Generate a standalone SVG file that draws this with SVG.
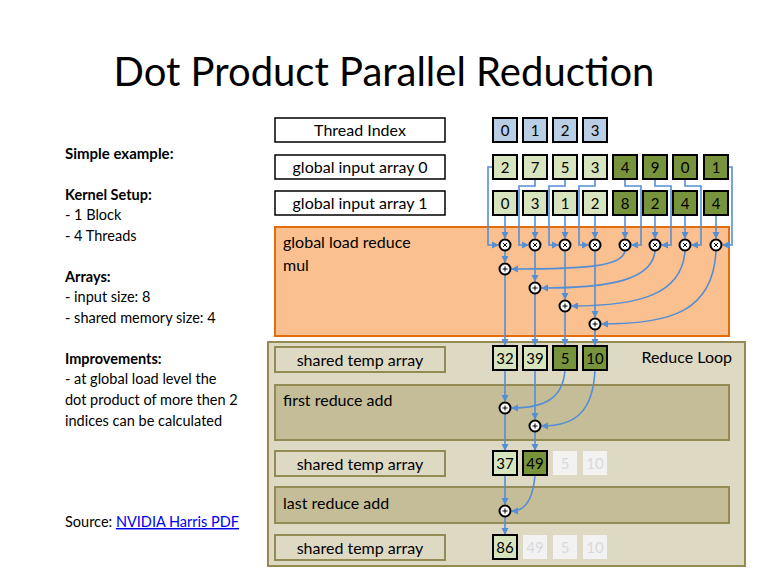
<svg xmlns="http://www.w3.org/2000/svg" width="768" height="576" viewBox="0 0 768 576">
<style>
text{font-family:Lato,"Open Sans","Liberation Sans",sans-serif;fill:#000}
.lbl{fill:#fff;stroke:#000;stroke-width:1.5}
.lbl2{fill:#ddd9c3;stroke:#948a54;stroke-width:2}
.lt{font-size:16px;text-anchor:middle}
.c{stroke:#000;stroke-width:2}
.b{fill:#b9cde5}.g{fill:#d7e4bd}.d{fill:#77933c}
.f{fill:#f2f2f2}
.ct{font-size:15px;text-anchor:middle}
.ft{font-size:15px;text-anchor:middle;fill:#d9d9d9}
.w{stroke:#558ed5;stroke-width:1.6;fill:none;marker-end:url(#a)}
.op{fill:#fff;stroke:#000;stroke-width:2}
.sym{stroke:#000;stroke-width:1}
.side{font-size:14.5px}
.bold{font-weight:bold}
</style>
<defs>
<marker id="a" markerWidth="8" markerHeight="8" refX="6" refY="4" orient="auto" markerUnits="userSpaceOnUse"><path d="M0,0.5 L7,4 L0,7.5z" fill="#558ed5"/></marker>
<g id="mul"><circle r="5.5" class="op"/><path d="M-2,-2 L2,2 M2,-2 L-2,2" class="sym"/></g>
<g id="add"><circle r="5.5" class="op"/><path d="M-2.5,0 H2.5 M0,-2.5 V2.5" class="sym"/></g>
</defs>
<rect width="768" height="576" fill="#fff"/>
<text x="384" y="86" font-size="40" text-anchor="middle">Dot Product Parallel Reduction</text>
<g id="side" class="side">
<text x="65" y="159" class="bold" font-size="15">Simple example:</text>
<text x="65" y="200" class="bold">Kernel Setup:</text>
<text x="65" y="220">- 1 Block</text>
<text x="65" y="241">- 4 Threads</text>
<text x="65" y="282" class="bold">Arrays:</text>
<text x="65" y="302">- input size: 8</text>
<text x="65" y="323">- shared memory size: 4</text>
<text x="65" y="364" class="bold">Improvements:</text>
<text x="65" y="384">- at global load level the</text>
<text x="65" y="405">dot product of more then 2</text>
<text x="65" y="426">indices can be calculated</text>
<text x="65" y="527">Source: <tspan fill="#0000ee" text-decoration="underline">NVIDIA  Harris PDF</tspan></text>
</g>
<g id="orange"><rect x="275" y="227" width="454" height="109" fill="#fac090" stroke="#e46c0a" stroke-width="2"/><text x="283" y="248" font-size="16">global load reduce</text><text x="283" y="271" font-size="16">mul</text></g>
<g id="loop"><rect x="268" y="342" width="477" height="224" fill="#ddd9c3" stroke="#948a54" stroke-width="2"/><text x="732" y="363" font-size="16" text-anchor="end" fill="#5a5a4a">Reduce Loop</text></g>
<g id="first"><rect x="275" y="385" width="454" height="55" fill="#c4bd97" stroke="#948a54" stroke-width="2"/><text x="283" y="406" font-size="16">first reduce add</text></g>
<g id="last"><rect x="275" y="487" width="454" height="36" fill="#c4bd97" stroke="#948a54" stroke-width="2"/><text x="283" y="509" font-size="16">last reduce add</text></g>
<g id="labels">
<rect x="275" y="118" width="170" height="24" class="lbl"/><text x="360" y="136" class="lt">Thread Index</text>
<rect x="275" y="155" width="170" height="24" class="lbl"/><text x="360" y="173" class="lt">global input array 0</text>
<rect x="275" y="191" width="170" height="24" class="lbl"/><text x="360" y="209" class="lt">global input array 1</text>
<rect x="275" y="347" width="170" height="25" class="lbl2"/><text x="360" y="366" class="lt">shared temp array</text>
<rect x="275" y="451" width="170" height="25" class="lbl2"/><text x="360" y="470" class="lt">shared temp array</text>
<rect x="275" y="535" width="170" height="25" class="lbl2"/><text x="360" y="554" class="lt">shared temp array</text>
</g>
<g id="connectors">
<path class="w" d="M493,167 H488 V245 H498"/>
<path class="w" d="M535,179 V186 H519 V245 H528"/>
<path class="w" d="M565,179 V186 H549 V245 H558"/>
<path class="w" d="M595,179 V186 H579 V245 H588"/>
<path class="w" d="M625,179 V186 H641 V245 H632"/>
<path class="w" d="M655,179 V186 H671 V245 H662"/>
<path class="w" d="M685,179 V186 H701 V245 H692"/>
<path class="w" d="M729,167 H732 V245 H723"/>
<path class="w" d="M505,215 V238"/><path class="w" d="M535,215 V238"/><path class="w" d="M565,215 V238"/><path class="w" d="M595,215 V238"/>
<path class="w" d="M625,215 V238"/><path class="w" d="M655,215 V238"/><path class="w" d="M685,215 V238"/><path class="w" d="M716,215 V238"/>
<path class="w" d="M505,251 V262"/>
<path class="w" d="M535,251 V281"/>
<path class="w" d="M565,251 V299"/>
<path class="w" d="M595,251 V317"/>
<path class="w" d="M625,251 C622,266 590,269 512,269"/>
<path class="w" d="M655,251 C652,280 610,288 542,288"/>
<path class="w" d="M685,251 C682,294 640,306 572,306"/>
<path class="w" d="M716,251 C713,312 670,324 602,324"/>
<path class="w" d="M505,275 V345"/><path class="w" d="M535,294 V345"/><path class="w" d="M565,312 V345"/><path class="w" d="M595,330 V345"/>
<path class="w" d="M505,370 V401"/>
<path class="w" d="M535,370 V419"/>
<path class="w" d="M565,370 C563,398 545,408 512,408"/>
<path class="w" d="M595,370 C593,412 575,426 542,426"/>
<path class="w" d="M505,414 V450"/>
<path class="w" d="M535,432 V450"/>
<path class="w" d="M505,475 V504"/>
<path class="w" d="M535,475 C533,500 525,511 512,511"/>
<path class="w" d="M505,517 V534"/>
</g>
<g id="cells">
<rect x="493" y="118" width="24" height="24" class="c b"/><text x="505" y="136" class="ct">0</text>
<rect x="523" y="118" width="24" height="24" class="c b"/><text x="535" y="136" class="ct">1</text>
<rect x="553" y="118" width="24" height="24" class="c b"/><text x="565" y="136" class="ct">2</text>
<rect x="583" y="118" width="24" height="24" class="c b"/><text x="595" y="136" class="ct">3</text>
<rect x="493" y="155" width="24" height="24" class="c g"/><text x="505" y="173" class="ct">2</text>
<rect x="523" y="155" width="24" height="24" class="c g"/><text x="535" y="173" class="ct">7</text>
<rect x="553" y="155" width="24" height="24" class="c g"/><text x="565" y="173" class="ct">5</text>
<rect x="583" y="155" width="24" height="24" class="c g"/><text x="595" y="173" class="ct">3</text>
<rect x="613" y="155" width="24" height="24" class="c d"/><text x="625" y="173" class="ct">4</text>
<rect x="643" y="155" width="24" height="24" class="c d"/><text x="655" y="173" class="ct">9</text>
<rect x="673" y="155" width="24" height="24" class="c d"/><text x="685" y="173" class="ct">0</text>
<rect x="704" y="155" width="24" height="24" class="c d"/><text x="716" y="173" class="ct">1</text>
<rect x="493" y="191" width="24" height="24" class="c g"/><text x="505" y="209" class="ct">0</text>
<rect x="523" y="191" width="24" height="24" class="c g"/><text x="535" y="209" class="ct">3</text>
<rect x="553" y="191" width="24" height="24" class="c g"/><text x="565" y="209" class="ct">1</text>
<rect x="583" y="191" width="24" height="24" class="c g"/><text x="595" y="209" class="ct">2</text>
<rect x="613" y="191" width="24" height="24" class="c d"/><text x="625" y="209" class="ct">8</text>
<rect x="643" y="191" width="24" height="24" class="c d"/><text x="655" y="209" class="ct">2</text>
<rect x="673" y="191" width="24" height="24" class="c d"/><text x="685" y="209" class="ct">4</text>
<rect x="704" y="191" width="24" height="24" class="c d"/><text x="716" y="209" class="ct">4</text>
<rect x="493" y="346" width="24" height="24" class="c g"/><text x="505" y="364" class="ct">32</text>
<rect x="523" y="346" width="24" height="24" class="c g"/><text x="535" y="364" class="ct">39</text>
<rect x="553" y="346" width="24" height="24" class="c d"/><text x="565" y="364" class="ct">5</text>
<rect x="583" y="346" width="24" height="24" class="c d"/><text x="595" y="364" class="ct">10</text>
<rect x="493" y="451" width="24" height="24" class="c g"/><text x="505" y="469" class="ct">37</text>
<rect x="523" y="451" width="24" height="24" class="c d"/><text x="535" y="469" class="ct">49</text>
<rect x="553" y="451" width="24" height="24" class="f"/><text x="565" y="469" class="ft">5</text>
<rect x="583" y="451" width="24" height="24" class="f"/><text x="595" y="469" class="ft">10</text>
<rect x="493" y="535" width="24" height="24" class="c g"/><text x="505" y="553" class="ct">86</text>
<rect x="523" y="535" width="24" height="24" class="f"/><text x="535" y="553" class="ft">49</text>
<rect x="553" y="535" width="24" height="24" class="f"/><text x="565" y="553" class="ft">5</text>
<rect x="583" y="535" width="24" height="24" class="f"/><text x="595" y="553" class="ft">10</text>
</g>
<g id="ops">
<use href="#mul" x="505" y="245"/><use href="#mul" x="535" y="245"/><use href="#mul" x="565" y="245"/><use href="#mul" x="595" y="245"/>
<use href="#mul" x="625" y="245"/><use href="#mul" x="655" y="245"/><use href="#mul" x="685" y="245"/><use href="#mul" x="716" y="245"/>
<use href="#add" x="505" y="269"/><use href="#add" x="535" y="288"/><use href="#add" x="565" y="306"/><use href="#add" x="595" y="324"/>
<use href="#add" x="505" y="408"/><use href="#add" x="535" y="426"/><use href="#add" x="505" y="511"/>
</g>
</svg>
